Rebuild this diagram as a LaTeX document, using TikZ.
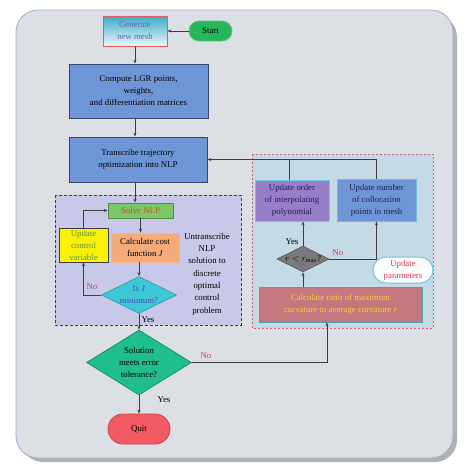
\documentclass[tikz,border=0pt]{standalone}
\usepackage{fontspec}
\setmainfont{Liberation Serif}
\usetikzlibrary{shapes.geometric, arrows.meta, positioning}
\definecolor{panelgray}{RGB}{220,223,227}
\definecolor{panelline}{RGB}{160,172,208}
\definecolor{shadowgray}{RGB}{175,177,180}
\definecolor{linegray}{RGB}{60,62,66}
\definecolor{meshteal}{RGB}{60,172,198}
\definecolor{meshred}{RGB}{220,95,95}
\definecolor{meshtext}{RGB}{100,100,175}
\definecolor{startgreen}{RGB}{40,182,92}
\definecolor{stepblue}{RGB}{110,150,215}
\definecolor{stepline}{RGB}{55,72,110}
\definecolor{lavender}{RGB}{200,200,232}
\definecolor{nlpgreen}{RGB}{122,200,104}
\definecolor{nlptext}{RGB}{185,90,35}
\definecolor{ctrlyellow}{RGB}{250,240,10}
\definecolor{ctrltext}{RGB}{95,150,60}
\definecolor{costorange}{RGB}{245,170,122}
\definecolor{mincyan}{RGB}{62,200,215}
\definecolor{mintext}{RGB}{70,75,180}
\definecolor{solgreen}{RGB}{32,190,140}
\definecolor{quitred}{RGB}{240,90,96}
\definecolor{meshblue}{RGB}{196,218,228}
\definecolor{dashred}{RGB}{212,95,112}
\definecolor{orderpurple}{RGB}{152,126,200}
\definecolor{ordertext}{RGB}{30,32,80}
\definecolor{edgecyan}{RGB}{110,200,222}
\definecolor{rgray}{RGB}{122,122,124}
\definecolor{ratiorose}{RGB}{196,120,126}
\definecolor{ratiotext}{RGB}{242,212,64}
\definecolor{ratioedge}{RGB}{80,160,172}
\definecolor{nored}{RGB}{212,60,82}

\begin{document}
\begin{tikzpicture}[x=1pt, y=-1pt,
    box/.style={draw, line width=0.8pt, align=center, inner sep=1pt,
        font=\fontsize{8.8}{12}\selectfont},
    dia/.style={diamond, draw, line width=0.6pt, align=center, inner sep=0pt,
        font=\fontsize{8.8}{12}\selectfont},
    arr/.style={-{Stealth[length=4pt,width=3pt]}, line width=0.7pt, draw=linegray},
    conn/.style={line width=0.7pt, draw=linegray},
    label/.style={font=\fontsize{8.8}{10}\selectfont, inner sep=1pt}
]
    \useasboundingbox (0,0) rectangle (474,474);

    % Panel
    \fill[shadowgray, rounded corners=22pt] (21,15) rectangle (457,462);
    \draw[fill=panelgray, draw=panelline, line width=0.8pt, rounded corners=22pt]
        (16,10) rectangle (453,458);

    % Groups
    \draw[fill=lavender, draw=linegray, line width=0.8pt, dash pattern=on 3pt off 2pt]
        (55,195) rectangle (241,325);
    \draw[fill=meshblue, draw=dashred, line width=0.7pt, dash pattern=on 2pt off 2pt]
        (252,154) rectangle (433,328);

    % Main column
    \node[box, draw=meshred, top color=meshteal, bottom color=white!90!meshteal,
        text=meshtext, minimum width=64pt, minimum height=30pt] (gen) at (135,31)
        {Generate\\new mesh};
    \node[box, fill=startgreen, draw=startgreen!80!white, rounded corners=10pt,
        minimum width=43pt, minimum height=20pt] (start) at (210.5,31) {Start};
    \node[box, fill=stepblue, draw=stepline, minimum width=139pt, minimum height=54pt]
        (lgr) at (138.5,91) {Compute LGR points,\\weights,\\and differentiation matrices};
    \node[box, fill=stepblue, draw=stepline, minimum width=138pt, minimum height=45pt]
        (trans) at (138,159.5) {Transcribe trajectory\\optimization into NLP};

    % Inner loop
    \node[box, fill=nlpgreen, draw=nlpgreen!70!black, text=nlptext,
        minimum width=65pt, minimum height=15pt] (solve) at (140.5,210.5) {Solve NLP};
    \node[box, fill=ctrlyellow, draw=linegray, text=ctrltext,
        minimum width=49pt, minimum height=34pt] (upd) at (83.5,245) {Update\\control\\variable};
    \node[box, fill=costorange, draw=costorange!85!white,
        minimum width=68pt, minimum height=29pt] (cost) at (145,247.5)
        {Calculate cost\\function \textit{J}};
    \node[dia, fill=mincyan, draw=mincyan!75!black, text=mintext, aspect=2,
        minimum width=75pt, minimum height=36pt] (isj) at (139,295)
        {Is \textit{J}\\minimum?};
    \node[label, align=center, font=\fontsize{8.8}{12.3}\selectfont] (untr) at (207,274)
        {Untranscribe\\NLP\\solution to\\discrete\\optimal\\control\\problem};

    % Exit
    \node[dia, fill=solgreen, draw=solgreen!70!black, aspect=1.6,
        minimum width=105pt, minimum height=65pt] (sol) at (139,362.5)
        {Solution\\meets error\\tolerance?};
    \node[box, fill=quitred, draw=quitred!80!black, rounded corners=15pt,
        minimum width=62pt, minimum height=30pt] (quit) at (139,429) {Quit};

    % Mesh refinement
    \node[box, fill=orderpurple, draw=edgecyan, text=ordertext,
        minimum width=74pt, minimum height=41pt] (ord) at (292,200.5)
        {Update order\\of interpolating\\polynomial};
    \node[box, fill=stepblue, draw=edgecyan!80!stepblue, text=ordertext,
        minimum width=79pt, minimum height=42pt] (num) at (376.5,200)
        {Update number\\of collocation\\points in mesh};
    \node[dia, fill=rgray, draw=rgray!70!black, aspect=2,
        minimum width=52pt, minimum height=26pt] (rr) at (303,259)
        {$r<r_{\max}$?};
    \node[box, fill=white!94!meshblue, draw=edgecyan, text=nored, rounded corners=13pt,
        line width=1pt, minimum width=60pt, minimum height=26pt] (upar) at (403,270)
        {Update\\parameters};
    \node[box, fill=ratiorose, draw=ratioedge, text=ratiotext,
        minimum width=163pt, minimum height=35pt] (ratio) at (340.5,304.5)
        {Calculate ratio of maximum\\curvature to average curvature \textit{r}};

    % Connectors
    \draw[arr] (start.west) -- (gen.east);
    \draw[arr] (gen.south) -- (gen.south |- lgr.north);
    \draw[arr] (gen.south |- lgr.south) -- (gen.south |- trans.north);
    \draw[arr] (gen.south |- trans.south) -- (gen.south |- solve.north);
    \draw[arr] (solve.south) -- (solve.south |- cost.north);
    \draw[arr] (isj.north |- cost.south) -- (isj.north);
    \draw[arr] (isj.south) -- (sol.north);
    \draw[arr] (sol.south) -- (quit.north);
    \draw[arr] (isj.west) -| (upd.south);
    \draw[arr] (upd.north) |- (solve.west);
    \draw[arr] (sol.east) -| ([xshift=-13.5pt]ratio.south);
    \draw[arr] (rr.south |- ratio.north) -- (rr.south);
    \draw[arr] (rr.north) -- (rr.north |- ord.south);
    \draw[arr] (rr.east) -| (num.south);
    \draw[conn] ([xshift=-3pt]ord.north) -- ([xshift=-3pt]ord.north |- trans.east);
    \draw[arr] (num.north) |- (trans.east);

    % Branch labels
    \node[label, text=nored] (noj) at (92,287) {No};
    \node[label] (yesj) at (148,320) {Yes};
    \node[label, text=nored] (nosol) at (206,356) {No};
    \node[label] (yessol) at (164,400) {Yes};
    \node[label] (yesr) at (292,242) {Yes};
    \node[label, text=nored] (nor) at (338,253) {No};
\end{tikzpicture}
\end{document}
